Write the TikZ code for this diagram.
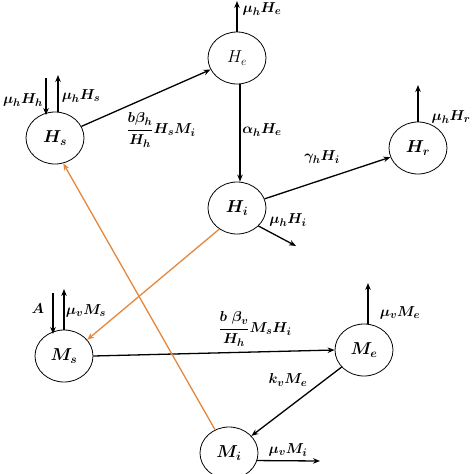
\documentclass[tikz,border=0pt]{standalone}
\usepackage{amsmath,bm}
\usetikzlibrary{shapes.geometric,arrows.meta}
\definecolor{orng}{RGB}{230,135,60}
\begin{document}
\begin{tikzpicture}[x=1pt,y=-1pt,
  st/.style={draw,ellipse,minimum width=58pt,minimum height=52pt,inner sep=0pt,line width=0.8pt,font=\fontsize{17}{20}\selectfont},
  fl/.style={-{Stealth[length=7pt,width=5.5pt]},line width=1.3pt},
  orarrow/.style={fl,draw=orng},
  lb/.style={font=\fontsize{15.5}{18}\selectfont,inner sep=0pt}]
\useasboundingbox[fill=white] (0,0) rectangle (474,474);
% compartments
\node[st] (Hs) at (55,138) {$\bm{H_s}$};
\node[st] (He) at (237,58) {$H_e$};
\node[st] (Hi) at (237,208) {$\bm{H_i}$};
\node[st] (Hr) at (418,148) {$\bm{H_r}$};
\node[st] (Ms) at (64,356) {$\bm{M_s}$};
\node[st] (Me) at (364,350) {$\bm{M_e}$};
\node[st] (Mi) at (229,453) {$\bm{M_i}$};
% free ends
\coordinate (hsin) at (46,78);
\coordinate (hsinend) at (46,115);
\coordinate (hsout) at (58,75);
\coordinate (heout) at (237,1);
\coordinate (hrout) at (418,85);
\coordinate (hiout) at (296,246);
\coordinate (msin) at (53,293);
\coordinate (msinend) at (53,334);
\coordinate (msout) at (64,289);
\coordinate (meout) at (368,283);
\coordinate (miout) at (320,461);
% flows
\draw[fl] (Hs) -- (He);
\draw[fl] ([xshift=3pt]He.south) -- ([xshift=3pt]Hi.north);
\draw[fl] (Hi) -- (Hr);
\draw[fl] (Hi.-40) -- (hiout);
\draw[fl] (He.north) -- (heout);
\draw[fl] (Hr.north) -- (hrout);
\draw[fl] (hsin) -- (hsinend);
\draw[fl] (hsout |- Hs.north) -- (hsout);
\draw[fl] (msin) -- (msinend);
\draw[fl] (Ms.north) -- (msout);
\draw[fl] (Ms.east) -- (Me.west);
\draw[fl] (meout |- Me.north) -- (meout);
\draw[fl] (Me) -- (Mi);
\draw[fl] (Mi.-15) -- (miout);
\draw[orarrow] (Mi.121) -- (Hs.-72);
\draw[orarrow] (Hi.-130) -- (Ms.35);
% labels
\node[lb] (l1) at (23,100) {$\bm{\mu_h H_h}$};
\node[lb] (l2) at (81,96) {$\bm{\mu_h H_s}$};
\node[lb] (l3) at (161,130) {$\bm{\dfrac{b\beta_h}{H_h}H_sM_i}$};
\node[lb] (l4) at (262,9) {$\bm{\mu_h H_e}$};
\node[lb] (l5) at (262,130) {$\bm{\alpha_h H_e}$};
\node[lb] (l6) at (322,157) {$\bm{\gamma_h H_i}$};
\node[lb] (l7) at (451,117) {$\bm{\mu_h H_r}$};
\node[lb] (l8) at (288,220) {$\bm{\mu_h H_i}$};
\node[lb] (l9) at (38,309) {$\bm{A}$};
\node[lb] (l10) at (86,311) {$\bm{\mu_v M_s}$};
\node[lb] (l11) at (255,329) {$\bm{\dfrac{b\ \beta_v}{H_h}M_sH_i}$};
\node[lb] (l12) at (400,313) {$\bm{\mu_v M_e}$};
\node[lb] (l13) at (288,380) {$\bm{k_v M_e}$};
\node[lb] (l14) at (288,450) {$\bm{\mu_v M_i}$};
\end{tikzpicture}
\end{document}
